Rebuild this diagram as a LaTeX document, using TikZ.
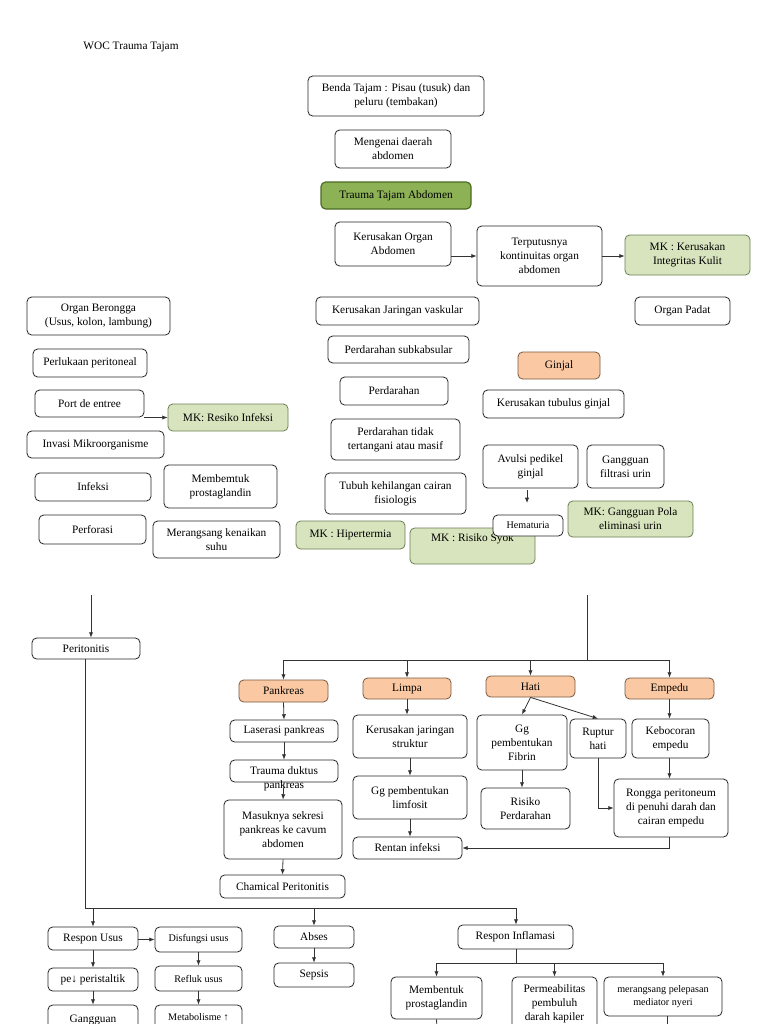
\documentclass[tikz,border=0pt]{standalone}
\usepackage{fontspec}
\setmainfont{Liberation Serif}
\usetikzlibrary{arrows.meta,calc}
\definecolor{mkfill}{HTML}{D7E4BD}
\definecolor{mkdraw}{HTML}{6E7F55}
\definecolor{dkfill}{HTML}{8DB255}
\definecolor{dkdraw}{HTML}{4C6B22}
\definecolor{orfill}{HTML}{FAC8A2}
\definecolor{ordraw}{HTML}{7A5A40}
\tikzset{
  box/.style={draw=black!85, fill=white, rounded corners=3.5pt, line width=0.6pt, align=center, inner sep=1pt, font=\fontsize{8.5}{10.5}\selectfont},
  sm/.style={font=\fontsize{7.6}{9.5}\selectfont},
  mk/.style={box, fill=mkfill, draw=mkdraw},
  dark/.style={box, fill=dkfill, draw=dkdraw, line width=0.9pt},
  organ/.style={box, fill=orfill, draw=ordraw},
  ln/.style={draw=black!80, line width=0.6pt},
  arr/.style={ln, -{Latex[length=4pt,width=3.2pt]}},
}
\newcommand{\mybox}[7]{\node[#6, minimum width={(#4-#2)*0.75pt}, minimum height={(#5-#3)*0.75pt}] (#1) at ({(#2+#4)/2},{(#3+#5)/2}) {#7};}
\begin{document}
\begin{tikzpicture}[x=0.75pt,y=-0.75pt]
\clip (0,0) rectangle (768,1024);
\fill[white] (0,0) rectangle (768,1024);

\node[font=\fontsize{8.5}{10.5}\selectfont] (title) at (131,47) {WOC Trauma Tajam};

% top column
\mybox{benda}{308}{76}{484}{116}{box}{Benda Tajam : Pisau (tusuk) dan\\peluru (tembakan)}
\mybox{mengenai}{335}{130}{451}{168}{box}{Mengenai daerah\\abdomen}
\mybox{trauma}{321}{182}{471}{209}{dark}{Trauma Tajam Abdomen}
\mybox{korgan}{335}{222}{451}{266}{box}{Kerusakan Organ\\Abdomen}
\mybox{putus}{477}{226}{602}{286}{box}{Terputusnya\\kontinuitas organ\\abdomen}
\mybox{mkkulit}{625}{235}{750}{275}{mk}{MK : Kerusakan\\Integritas Kulit}
\draw[arr] (korgan.east |- putus.west) -- (putus.west);
\draw[arr] (putus.east) -- (putus.east -| mkkulit.west);

\mybox{vask}{316}{297}{479}{325}{box}{Kerusakan Jaringan vaskular}
\mybox{padat}{635}{297}{730}{325}{box}{Organ Padat}
\mybox{subk}{328}{336}{469}{363}{box}{Perdarahan subkabsular}
\mybox{perd}{340}{377}{448}{405}{box}{Perdarahan}
\mybox{masif}{331}{419}{460}{460}{box}{Perdarahan tidak\\tertangani atau masif}
\mybox{cairan}{325}{473}{466}{514}{box}{Tubuh kehilangan cairan\\fisiologis}
\mybox{hiper}{296}{521}{405}{549}{mk}{MK : Hipertermia}
\mybox{syok}{410}{528}{535}{564}{mk,text depth=12pt}{MK : Risiko Syok}

\mybox{ginjal}{518}{352}{600}{379}{organ}{Ginjal}
\mybox{tubulus}{483}{390}{624}{418}{box}{Kerusakan tubulus ginjal}
\mybox{avulsi}{483}{445}{578}{488}{box}{Avulsi pedikel\\ginjal}
\mybox{filtrasi}{587}{445}{664}{488}{box}{Gangguan\\filtrasi urin}
\mybox{mkpola}{568}{501}{693}{537}{mk}{MK: Gangguan Pola\\eliminasi urin}
\mybox{hemat}{493}{515}{563}{536}{box,sm}{Hematuria}
\coordinate (hemarr) at (527,503);
\draw[arr] (avulsi.south -| hemarr) ++(0,2) -- (hemarr);

% left column
\mybox{berongga}{27}{297}{170}{335}{box}{Organ Berongga\\(Usus, kolon, lambung)}
\mybox{perluk}{33}{349}{147}{377}{box}{Perlukaan peritoneal}
\mybox{port}{35}{390}{144}{417}{box}{Port de entree}
\mybox{mkinf}{168}{404}{288}{431}{mk}{MK: Resiko Infeksi}
\draw[arr] (port.east |- mkinf.west) -- (mkinf.west);
\mybox{invasi}{27}{431}{164}{458}{box}{Invasi Mikroorganisme}
\mybox{infeksi}{35}{473}{151}{501}{box}{Infeksi}
\mybox{prosta}{164}{465}{277}{508}{box}{Membemtuk\\prostaglandin}
\mybox{perfor}{39}{515}{146}{544}{box}{Perforasi}
\mybox{suhu}{153}{521}{280}{558}{box}{Merangsang kenaikan\\suhu}

% peritonitis
\coordinate (ptop) at (91,595);
\mybox{perit}{32}{638}{140}{659}{box}{Peritonitis}
\draw[arr] (ptop) -- (ptop |- perit.north);

% organ bus
\coordinate (rtop) at (587,595);
\coordinate (obus) at (587,660);
\mybox{pank}{239}{680}{328}{702}{organ}{Pankreas}
\mybox{limpa}{363}{678}{451}{699}{organ}{Limpa}
\mybox{hati}{486}{676}{575}{697}{organ}{Hati}
\mybox{empedu}{625}{678}{714}{699}{organ}{Empedu}
\draw[ln] (rtop) -- (obus);
\draw[ln] (pank.north |- obus) -- (empedu.north |- obus);
\draw[arr] (pank.north |- obus) -- (pank.north);
\draw[arr] (limpa.north |- obus) -- (limpa.north);
\draw[arr] (hati.north |- obus) -- (hati.north);
\draw[arr] (empedu.north |- obus) -- (empedu.north);

% pankreas column
\mybox{laser}{230}{720}{338}{742}{box}{Laserasi pankreas}
\mybox{duktus}{230}{760}{338}{782}{box}{}
\node[align=center, inner sep=0pt, font=\fontsize{8.5}{10.5}\selectfont] (duktustext) at (284,779) {Trauma duktus\\pankreas};
\mybox{masuk}{224}{800}{342}{859}{box}{Masuknya sekresi\\pankreas ke cavum\\abdomen}
\mybox{chem}{220}{875}{345}{898}{box}{Chamical Peritonitis}
\draw[arr] (pank.south) -- (laser.north);
\draw[arr] (laser.south) -- (duktus.north);
\draw[arr] (duktus.south) -- (masuk.north);
\draw[arr] (masuk.south) -- (chem.north);

% limpa column
\mybox{kjar}{353}{715}{467}{758}{box}{Kerusakan jaringan\\struktur}
\mybox{limfo}{353}{776}{467}{819}{box}{Gg pembentukan\\limfosit}
\mybox{rentan}{353}{837}{462}{859}{box}{Rentan infeksi}
\draw[arr] (limpa.south) -- (limpa.south |- kjar.north);
\draw[arr] (kjar.south) -- (limfo.north);
\draw[arr] (limfo.south) -- (limfo.south |- rentan.north);

% hati column
\mybox{fibrin}{477}{715}{567}{770}{box}{Gg\\pembentukan\\Fibrin}
\mybox{ruptur}{570}{719}{626}{758}{box}{Ruptur\\hati}
\mybox{rperd}{481}{788}{570}{829}{box}{Risiko\\Perdarahan}
\draw[arr] (hati.south) -- (fibrin.north);
\draw[arr] (hati.south) -- (ruptur.north);
\draw[arr] (fibrin.south) -- (fibrin.south |- rperd.north);

% empedu column
\mybox{bocor}{632}{719}{709}{758}{box}{Kebocoran\\empedu}
\mybox{rongga}{614}{779}{728}{837}{box}{Rongga peritoneum\\di penuhi darah dan\\cairan empedu}
\draw[arr] (empedu.south) -- (empedu.south |- bocor.north);
\draw[arr] (empedu.south |- bocor.south) -- (empedu.south |- rongga.north);
\draw[arr] (ruptur.south) -- (ruptur.south |- rongga.west) -- (rongga.west);
\draw[arr] (empedu.south |- rongga.south) -- (empedu.south |- rentan.east) -- (rentan.east);

% bottom bus
\coordinate (busL) at (85,908);
\coordinate (busR) at (516,908);
\mybox{respusus}{48}{927}{138}{950}{box}{Respon Usus}
\mybox{disf}{155}{927}{242}{952}{box,sm}{Disfungsi usus}
\mybox{peris}{48}{968}{138}{991}{box}{pe↓ peristaltik}
\mybox{refluk}{155}{966}{242}{991}{box,sm}{Refluk usus}
\mybox{gangg}{48}{1005}{138}{1035}{box}{Gangguan}
\mybox{metab}{155}{1005}{242}{1030}{box,sm}{Metabolisme ↑}
\mybox{abses}{274}{926}{354}{948}{box}{Abses}
\mybox{sepsis}{274}{963}{354}{987}{box}{Sepsis}
\mybox{respinf}{458}{925}{573}{949}{box}{Respon Inflamasi}
\draw[ln] (busL |- perit.south) -- (busL) -- (busR);
\draw[arr] (respusus.north |- busL) -- (respusus.north);
\draw[arr] (abses.north |- busL) -- (abses.north);
\draw[arr] (busR) -- (busR |- respinf.north);
\draw[arr] (respusus.east |- disf.west) -- (disf.west);
\draw[arr] (respusus.south) -- (peris.north);
\draw[arr] (peris.south) -- (gangg.north);
\draw[arr] (disf.south) -- (refluk.north);
\draw[arr] (refluk.south) -- (metab.north);
\draw[arr] (abses.south) -- (sepsis.north);

% inflamasi fan
\coordinate (ibus) at (516,963);
\mybox{prost2}{391}{977}{482}{1019}{box}{Membentuk\\prostaglandin}
\mybox{perm}{512}{977}{597}{1030}{box}{Permeabilitas\\pembuluh\\darah kapiler}
\mybox{nyeri}{604}{977}{722}{1016}{box,sm}{merangsang pelepasan\\mediator nyeri}
\draw[ln] (respinf.south -| ibus) -- (ibus);
\draw[ln] (prost2.north |- ibus) -- (nyeri.north |- ibus);
\draw[arr] (prost2.north |- ibus) -- (prost2.north);
\draw[arr] (perm.north |- ibus) -- (perm.north);
\draw[arr] (nyeri.north |- ibus) -- (nyeri.north);
\coordinate (pend) at (437,1030);
\coordinate (nend) at (667,1030);
\draw[ln] (prost2.south) -- (pend);
\draw[ln] (nyeri.south -| nend) -- (nend);
\end{tikzpicture}
\end{document}
